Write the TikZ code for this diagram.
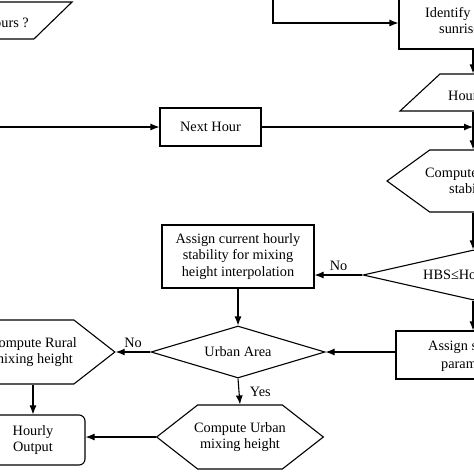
\documentclass[tikz,border=0pt]{standalone}
\usepackage{fontspec}
\setmainfont{Liberation Serif}
\usetikzlibrary{shapes.geometric}
\usetikzlibrary{shapes.symbols}
\usetikzlibrary{arrows.meta}

\tikzset{
    every node/.append style={font=\fontsize{14.3}{16.5}\selectfont},
    box/.style={draw, line width=1.1pt, inner sep=0pt, align=center},
    decide/.style={draw, diamond, aspect=4, line width=1.1pt, inner sep=0pt},
    hexa/.style={draw, signal, signal to=west and east, line width=1.1pt, inner sep=0pt, align=center},
    inout/.style={draw, line width=1.1pt, inner sep=0pt, transform shape},
    txt/.style={inner sep=0pt, anchor=base west},
    flow/.style={line width=1.1pt, -{Latex[length=9pt,width=7pt]}}
}

\begin{document}
\begin{tikzpicture}[x=1pt,y=-1pt]
        \useasboundingbox (0,0) rectangle (474,474);
        \clip (0,0) rectangle (474,474);

        % right column
        \node[box, minimum width=148, minimum height=52] (ident) at (473,23) {};
        \node[txt] (identa) at (425,17) {Identify H};
        \node[txt] (identb) at (439,33) {sunrise};
        \node[inout, xslant=1.08, minimum width=106, minimum height=37] (hour) at (473,92.5) {};
        \node[txt] (hourt) at (448,100) {Hour};
        \node[hexa, minimum width=172, minimum height=62, signal pointer angle=72] (stab) at (473,181) {};
        \node[txt] (staba) at (425,177) {Compute};
        \node[txt] (stabb) at (449,193) {stability};
        \node[decide, minimum width=220, minimum height=50] (hbs) at (473,275) {};
        \node[txt] (hbst) at (423,279) {HBS≤Hour};
        \node[box, minimum width=154, minimum height=48] (asgs) at (473,355) {};
        \node[txt] (asgsa) at (428,350) {Assign s};
        \node[txt] (asgsb) at (441,368) {param};

        % left and middle
        \node[inout, xslant=1.03, minimum width=106, minimum height=37] (endq) at (0,20.5) {};
        \node[txt, anchor=base east] (endqt) at (29,27) {Hours ?};
        \node[box, minimum width=101, minimum height=38] (next) at (210.5,127) {Next Hour};
        \node[box, minimum width=152, minimum height=63] (cur) at (238,256.5)
            {Assign current hourly\\stability for mixing\\height interpolation};
        \node[decide, minimum width=174, minimum height=52] (urban) at (238,352) {Urban Area};
        \node[hexa, inner xsep=-3pt, minimum width=160, minimum height=64, signal pointer angle=76] (rural) at (33,352)
            {Compute Rural\\mixing height};
        \node[hexa, inner xsep=-3.5pt, minimum width=163, minimum height=64, signal pointer angle=76] (urbh) at (240,437)
            {Compute Urban\\mixing height};
        \node[box, rounded corners=6pt, minimum width=104, minimum height=50] (hourly) at (33,440)
            {Hourly\\Output};

        \coordinate (topin) at (273,-5);
        \coordinate (leftin) at (-5,127);

        % connectors
        \draw[flow] (topin) |- (ident.west);
        \draw[flow] (ident.south) -- (ident.south |- hour.north);
        \draw[flow] (leftin) -- (next.west);
        \draw[flow] (next.east) -- (next.east -| hour.center);
        \draw[flow] (hour.center |- hour.south) -- (stab.north);
        \draw[flow] (stab.south) -- (hbs.north);
        \draw[flow] (hbs.west) -- (hbs.west -| cur.east) node[midway, above] {No};
        \draw[flow] (hbs.south) -- (asgs.north);
        \draw[flow] (asgs.west |- urban.east) -- (urban.east);
        \draw[flow] (cur.south) -- (urban.north);
        \draw[flow] (urban.west) -- (rural.east) node[midway, above] {No};
        \draw[flow] (urban.south) -- (urbh.north) node[midway, right=7pt] {Yes};
        \draw[flow] (rural.south) -- (hourly.north);
        \draw[flow] (urbh.west) -- (urbh.west -| hourly.east);
    \end{tikzpicture}
\end{document}
